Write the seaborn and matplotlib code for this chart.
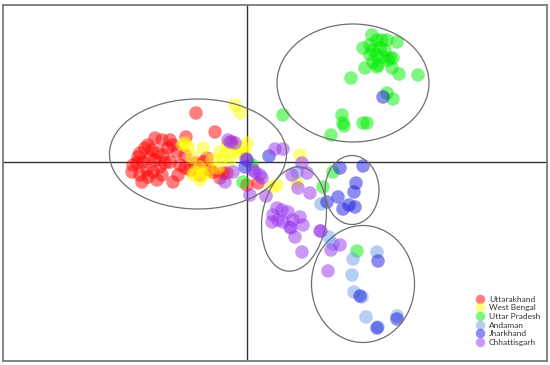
import numpy as np
import pandas as pd
import matplotlib
matplotlib.use('Agg')
import matplotlib.pyplot as plt
from matplotlib.patches import Ellipse
import seaborn as sns

# PCA scores (arbitrary units, origin at the crosshair)
uttarakhand_x = [-51, -32, -61, -92, -85, -77, -99, -95, -102, -107, -109, -114, -110, -115,
                 -107, -99, -105, -94, -87, -85, -92, -84, -79, -74, -70, -77, -82, -74, -69,
                 -67, -62, -89, -97, -104, -100, -90, -40, -34, -37, -24, -27, -15, 0, 11,
                 -44, -20, -57, -52, -62, -47]
uttarakhand_y = [49, 30, 25, 24, 22, 22, 17, 12, 14, 9, 5, -3, -1, -10,
                 -13, -15, -20, -10, -5, -13, 2, 7, 14, 17, 10, 0, -1, -20, -13,
                 -3, 7, 9, 4, 0, -8, -18, 4, -10, -8, -11, -16, 20, -23, -21,
                 0, -11, -8, -1, -6, -13]

west_bengal_x = [-12, -7, 0, -9, -17, -24, -27, -44, -59, -62, -54, -40, -47, -20, -15, -4,
                 25, -29, -64, -55, -52, -44, -47, 53, 50, 30, -2, -35]
west_bengal_y = [57, 49, 19, 10, 2, 5, 10, 14, 15, 19, -13, -11, -5, 17, 12, 14,
                 -25, -6, 17, 5, -10, -13, -18, 7, -20, -23, 9, 2]

uttar_pradesh_x = [125, 116, 123, 130, 135, 140, 150, 126, 133, 138, 123, 130, 136, 143, 126,
                   131, 141, 146, 118, 130, 145, 152, 104, 171, 140, 146, 95, 96, 97, 116,
                   120, 84, 36, 5, -4, 86, 76, 110]
uttar_pradesh_y = [127, 114, 117, 122, 122, 122, 120, 112, 114, 112, 107, 107, 105, 104, 100,
                   97, 102, 104, 94, 95, 94, 88, 84, 87, 69, 63, 47, 39, 36, 39,
                   39, 27, 47, -3, -20, -10, -25, -89]

andaman_x = [50, 74, 82, 86, 106, 130, 105, 107, 115, 119, 150, 131]
andaman_y = [-10, -42, -75, -82, -97, -90, -113, -130, -135, -155, -154, -165]

jharkhand_x = [93, 116, 109, 107, 91, 80, 96, 102, 108, 22, 0, -2, 136, 131, 150, 130, 113]
jharkhand_y = [-6, -4, -21, -30, -35, -40, -47, -43, -45, 6, 2, -5, 65, -99, -157, -166, -134]

chhattisgarh_x = [28, 36, -1, 8, 13, 3, 19, 45, 51, 63, 60, 55, 30, 35, 41, 26, 25, 31, 36,
                  46, 53, 56, 43, 44, 48, 55, 73, 74, 93, 84, 81, -17, -12, -14, -22, -19,
                  6, 15]
chhattisgarh_y = [13, 13, 3, -10, -13, -33, -34, -13, -26, -31, -11, -1, -46, -48, -50, -53,
                  -60, -58, -60, -58, -55, -63, -65, -66, -75, -90, -69, -69, -83, -88, -109,
                  20, 19, -10, -20, 22, -8, -16]

regions = ['Uttarakhand', 'West Bengal', 'Uttar Pradesh', 'Andaman', 'Jharkhand', 'Chhattisgarh']
region_colors = ['#ff0000', '#ffff00', '#00ee00', '#6f9fea', '#1a1ae0', '#9a33ee']

# cluster ellipses: centre x, centre y, width, height, angle
ellipse_cx = [-49, 106, 105, 47, 116]
ellipse_cy = [8, 79, -28, -57, -122]
ellipse_w = [177, 152, 54, 64, 103]
ellipse_h = [110, 118, 69, 105, 117]
ellipse_angle = [0, 0, 0, -8, 0]

xs = [uttarakhand_x, west_bengal_x, uttar_pradesh_x, andaman_x, jharkhand_x, chhattisgarh_x]
ys = [uttarakhand_y, west_bengal_y, uttar_pradesh_y, andaman_y, jharkhand_y, chhattisgarh_y]
frames = [pd.DataFrame({'pc1': x, 'pc2': y, 'region': r}) for x, y, r in zip(xs, ys, regions)]
df = pd.concat(frames, ignore_index=True)

sns.set_style('white')
plt.rcParams['font.family'] = ['Lato', 'DejaVu Sans']

fig = plt.figure(figsize=(5.5, 3.65), dpi=100)
ax = fig.add_axes([3 / 550, 4 / 365, 544 / 550, 356 / 365])

sns.scatterplot(data=df, x='pc1', y='pc2', hue='region', hue_order=regions,
                palette=dict(zip(regions, region_colors)), s=95, alpha=0.5,
                edgecolor='none', ax=ax)

ax.axvline(0, color='#333333', lw=1.0, zorder=0)
ax.axhline(0, color='#333333', lw=1.0, zorder=0)

for cx, cy, w, h, a in zip(ellipse_cx, ellipse_cy, ellipse_w, ellipse_h, ellipse_angle):
    ax.add_patch(Ellipse((cx, cy), w, h, angle=a, fill=False, edgecolor='#6e6e6e', lw=0.9))

ax.set_xlim(-244, 300)
ax.set_ylim(-199, 157)
ax.set_xticks([])
ax.set_yticks([])
ax.set_xlabel('')
ax.set_ylabel('')
for sp in ax.spines.values():
    sp.set_color('#7a7a7a')
    sp.set_linewidth(1.3)

leg = ax.legend(loc='upper left', bbox_to_anchor=(0.853, 0.195), frameon=False,
                fontsize=6, labelspacing=0.2, handletextpad=0.15, markerscale=0.7,
                borderpad=0, labelcolor='#333333')

fig.savefig('out.png', dpi=100)
